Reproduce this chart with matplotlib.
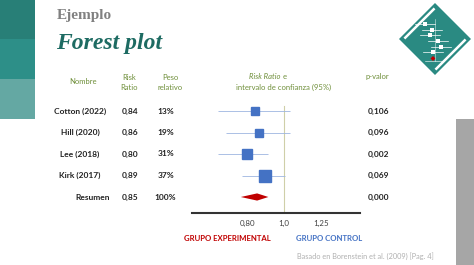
import matplotlib
matplotlib.use("Agg")
import matplotlib.pyplot as plt
import matplotlib.transforms as mtransforms
from matplotlib.patches import Rectangle, Polygon
import numpy as np

# ── Data ─────────────────────────────────────────────────────────────────────
studies   = ["Cotton (2022)", "Hill (2020)", "Lee (2018)", "Kirk (2017)"]
rr        = [0.84, 0.86, 0.80, 0.89]
ci_low    = [0.67, 0.705, 0.67, 0.775]
ci_high   = [1.035, 1.04, 0.91, 1.005]
weights   = [13, 19, 31, 37]
p_values  = ["0,106", "0,096", "0,002", "0,069"]

summary_label = "Resumen"
summary_rr    = 0.85
summary_low   = 0.77
summary_high  = 0.91
summary_w     = "100%"
summary_p     = "0,000"

xticks      = [0.80, 1.0, 1.25]
xticklabels = ["0,80", "1,0", "1,25"]

# mini forest inside the logo (offsets from logo centre, px)
logo_rows_y  = [-15, -9, -4, 2, 8, 13]
logo_rows_x  = [-10, -3, -5, 3, 6, -2]

# ── Palette ──────────────────────────────────────────────────────────────────
TEAL_1 = "#287f77"
TEAL_2 = "#2d8f88"
TEAL_3 = "#64a8a3"
LOGO   = "#2a8a82"
TITLE  = "#1d6b62"
GRAY_T = "#808080"
OLIVE  = "#6f8f3a"
DARK   = "#222222"
BLUE   = "#4472c4"
LBLUE  = "#9db5e0"
RED    = "#c00000"
GRAYBAR = "#a6a6a6"

W, H = 474, 265
fig = plt.figure(figsize=(W / 100, H / 100), dpi=100)
fig.patch.set_facecolor("white")

bg = fig.add_axes([0, 0, 1, 1])
bg.set_xlim(0, W)
bg.set_ylim(H, 0)
bg.axis("off")

# ── Decorations ──────────────────────────────────────────────────────────────
for (y0, y1, c) in [(0, 38.5, TEAL_1), (38.5, 78.5, TEAL_2), (78.5, 118.5, TEAL_3)]:
    bg.add_patch(Rectangle((0, y0), 34.7, y1 - y0, fc=c, ec="none"))
bg.add_patch(Rectangle((456, 118.5), 18, H - 118.5, fc=GRAYBAR, ec="none"))

# logo: teal diamond with white stripes and a tiny forest plot
cx, cy, r = 435, 39, 36
bg.add_patch(Polygon([(cx - r, cy), (cx, cy - r), (cx + r, cy), (cx, cy + r)],
                     closed=True, fc=LOGO, ec="none"))
offs = 4.5
bg.plot([cx - r + offs * 1.2, cx - offs * 0.1], [cy - offs * 0.1, cy - r + offs * 1.2],
        color="white", lw=1.8, solid_capstyle="butt")
bg.plot([cx + offs * 0.1, cx + r - offs * 1.2], [cy + r - offs * 1.2, cy + offs * 0.1],
        color="white", lw=1.8, solid_capstyle="butt")
bg.plot([cx, cx], [cy - 20, cy + 22], color="white", lw=0.4, alpha=0.8)
for ly, lx in zip(logo_rows_y, logo_rows_x):
    bg.plot([cx + lx - 10, cx + lx + 10], [cy + ly, cy + ly], color="white", lw=0.5)
    bg.add_patch(Rectangle((cx + lx - 2, cy + ly - 2), 4, 4, fc="white", ec="none"))
bg.add_patch(Polygon([(cx - 4.5, cy + 19.5), (cx - 2, cy + 17), (cx + 0.5, cy + 19.5),
                      (cx - 2, cy + 22)], closed=True, fc=RED, ec="none"))
bg.plot([cx - 10, cx + 8], [cy + 22, cy + 22], color="white", lw=0.4)

# ── Titles ───────────────────────────────────────────────────────────────────
bg.text(56.5, 15.5, "Ejemplo", family="Liberation Serif", fontweight="bold",
        fontsize=11, color=GRAY_T, ha="left", va="center")
bg.text(56, 43, "Forest plot", family="Liberation Serif", fontweight="bold",
        style="italic", fontsize=17, color=TITLE, ha="left", va="center")

# ── Forest plot axes ─────────────────────────────────────────────────────────
x0, x1 = 191.7, 360
y_axis, y_top = 212.5, 100
ax = fig.add_axes([x0 / W, 1 - y_axis / H, (x1 - x0) / W, (y_axis - y_top) / H])
ax.set_facecolor("none")
n = len(studies)
row_px = 21.5
ax.set_xscale("log")
ax.set_xlim(0.572, 1.585)
ax.set_ylim(-(n + (y_axis - 197) / row_px), (111 - y_top) / row_px)
ys = -np.arange(n)

ax.axvline(1.0, ymin=0, ymax=0.95, color="#cfcfa8", lw=0.8, zorder=1)
ax.hlines(ys, ci_low, ci_high, color=LBLUE, lw=0.6, zorder=2)
for x, y, w in zip(rr, ys, weights):
    ax.plot(x, y, marker="s", ms=1.4 * np.sqrt(w), color=BLUE, mec=BLUE, zorder=3)
ys_sum = -n
hgt = 3.6 / row_px
ax.add_patch(Polygon([(summary_low, ys_sum), (summary_rr, ys_sum + hgt),
                      (summary_high, ys_sum), (summary_rr, ys_sum - hgt)],
                     closed=True, fc=RED, ec="none", zorder=3))

for side in ("top", "left", "right"):
    ax.spines[side].set_visible(False)
ax.spines["bottom"].set_color("#333333")
ax.spines["bottom"].set_linewidth(1.5)
ax.set_yticks([])
ax.set_xticks(xticks)
ax.set_xticklabels(xticklabels, family="Lato", fontsize=5.7, color="#404040")
ax.xaxis.set_minor_locator(matplotlib.ticker.NullLocator())
ax.tick_params(axis="x", length=0, pad=5)

# ── Table text ───────────────────────────────────────────────────────────────
tr = mtransforms.blended_transform_factory(bg.transData, ax.transData)
row_font = dict(family="Lato", fontweight="bold", fontsize=6, color=DARK,
                ha="center", va="center", transform=tr)
for y, name, v, w, p in zip(ys, studies, rr, weights, p_values):
    bg.text(80, y, name, **row_font)
    bg.text(130, y, f"{v:.2f}".replace(".", ","), **row_font)
    bg.text(166, y, f"{w}%", **row_font)
    bg.text(379, y, p, **row_font)
bg.text(93, ys_sum, summary_label, **row_font)
bg.text(130, ys_sum, f"{summary_rr:.2f}".replace(".", ","), **row_font)
bg.text(165, ys_sum, summary_w, **row_font)
bg.text(379, ys_sum, summary_p, **row_font)

head = dict(family="Lato", fontsize=5.5, color=OLIVE, ha="center", va="center",
            linespacing=1.5)
bg.text(82.7, 81.5, "Nombre", **head)
bg.text(129.5, 82, "Risk\nRatio", **head)
bg.text(170.5, 82, "Peso\nrelativo", **head)
bg.text(281, 76.5, "Risk Ratio", style="italic", **{**head, "ha": "right"})
bg.text(281, 76.5, " e", **{**head, "ha": "left"})
bg.text(283.5, 87.5, "intervalo de confianza (95%)", **head)
bg.text(377.7, 76.5, "p-valor", **head)

# ── Bottom labels ────────────────────────────────────────────────────────────
bg.text(227.5, 238.5, "GRUPO EXPERIMENTAL", family="Lato", fontweight="bold",
        fontsize=5.6, color=RED, ha="center", va="center")
bg.text(329, 238.5, "GRUPO CONTROL", family="Lato", fontweight="bold",
        fontsize=5.6, color=BLUE, ha="center", va="center")
bg.text(365, 256, "Basado en Borenstein et al. (2009) [Pag. 4]", family="Lato",
        fontsize=5.3, color="#b0b0b0", ha="center", va="center")

fig.savefig("out.png", dpi=100, facecolor="white")
